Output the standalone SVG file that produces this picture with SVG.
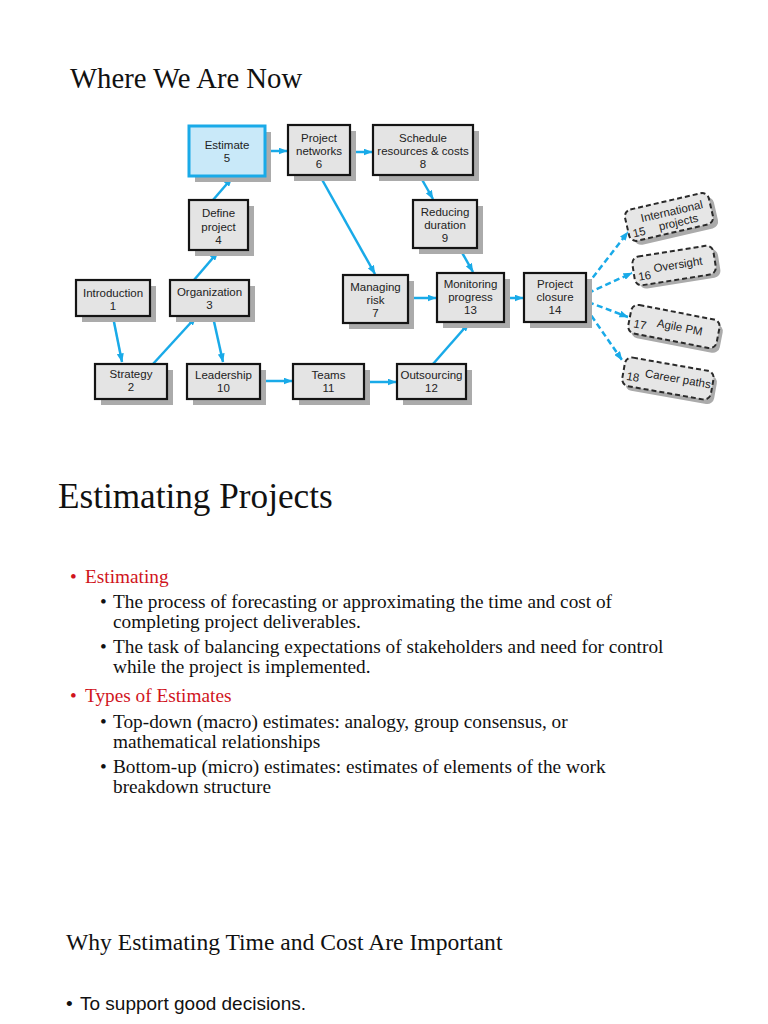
<svg xmlns="http://www.w3.org/2000/svg" width="768" height="1024" viewBox="0 0 768 1024">
<defs>
<marker id="ah" viewBox="0 0 9 7" refX="8.5" refY="3.5" markerWidth="9" markerHeight="7" markerUnits="userSpaceOnUse" orient="auto">
<path d="M0,0 L9,3.5 L0,7 z" fill="#19aae8"/>
</marker>
<style>
.sh{fill:#ababab}
.bx{fill:#e4e4e4;stroke:#141414;stroke-width:2.2}
.est{fill:#c9e9f9;stroke:#19aae8;stroke-width:3}
.dsh{fill:#ababab}
.dbx{fill:#e6e6e6;stroke:#2a2a2a;stroke-width:2;stroke-dasharray:5,3}
.nt{font-family:"Liberation Sans",Arial,sans-serif;font-size:11.5px;fill:#222;text-anchor:middle}
.nl{font-family:"Liberation Sans",Arial,sans-serif;font-size:11.5px;fill:#222}
.ed{fill:none;stroke:#19aae8;stroke-width:2.5;marker-end:url(#ah)}
.dd{fill:none;stroke:#19aae8;stroke-width:2.5;stroke-dasharray:6,3.5;marker-end:url(#ah)}
.h1{font-family:"Liberation Serif","Times New Roman",serif;fill:#111}
.bt{font-family:"Liberation Serif","Times New Roman",serif;font-size:19.3px;fill:#111}
.rd{fill:#d0141c}
</style>
</defs>
<rect width="768" height="1024" fill="#fff"/>
<text class="h1" x="70" y="88" font-size="28.7">Where We Are Now</text>

<g id="connectors">
<line class="ed" x1="113" y1="317" x2="122" y2="362"/>
<line class="ed" x1="153" y1="364" x2="196" y2="317"/>
<line class="ed" x1="213" y1="317" x2="223" y2="362"/>
<line class="ed" x1="194" y1="280" x2="218" y2="252"/>
<line class="ed" x1="213" y1="200" x2="232" y2="178"/>
<line class="ed" x1="266" y1="151" x2="287" y2="151"/>
<line class="ed" x1="261" y1="381" x2="292" y2="381"/>
<line class="ed" x1="351" y1="152" x2="372" y2="152"/>
<line class="ed" x1="320" y1="176" x2="375" y2="274"/>
<line class="ed" x1="420" y1="176" x2="433" y2="199"/>
<line class="ed" x1="460" y1="249" x2="473" y2="272"/>
<line class="ed" x1="409" y1="298" x2="436" y2="298"/>
<line class="ed" x1="365" y1="382" x2="396" y2="382"/>
<line class="ed" x1="433" y1="364" x2="469" y2="323"/>
<line class="ed" x1="505" y1="298" x2="523" y2="298"/>
<line class="dd" x1="587" y1="285" x2="628" y2="232"/>
<line class="dd" x1="588" y1="293" x2="632" y2="273"/>
<line class="dd" x1="588" y1="302" x2="628" y2="317"/>
<line class="dd" x1="586" y1="308" x2="622" y2="360"/>
</g>

<g id="n1"><rect class="sh" x="82" y="286" width="74" height="36"/><rect class="bx" x="76" y="280" width="74" height="36"/><text class="nt" x="113" y="297">Introduction</text><text class="nt" x="113" y="310">1</text></g>
<g id="n2"><rect class="sh" x="101" y="370" width="72" height="35"/><rect class="bx" x="95" y="364" width="72" height="35"/><text class="nt" x="131" y="378">Strategy</text><text class="nt" x="131" y="391">2</text></g>
<g id="n3"><rect class="sh" x="176" y="286" width="79" height="36"/><rect class="bx" x="170" y="280" width="79" height="36"/><text class="nt" x="209.5" y="296">Organization</text><text class="nt" x="209.5" y="309">3</text></g>
<g id="n4"><rect class="sh" x="195" y="206" width="59" height="50"/><rect class="bx" x="189" y="200" width="59" height="50"/><text class="nt" x="218.5" y="217">Define</text><text class="nt" x="218.5" y="231">project</text><text class="nt" x="218.5" y="244">4</text></g>
<g id="n5"><rect class="sh" x="195" y="132" width="76" height="50"/><rect class="est" x="189" y="126" width="76" height="50"/><text class="nt" x="227" y="149">Estimate</text><text class="nt" x="227" y="162">5</text></g>
<g id="n6"><rect class="sh" x="294" y="131" width="62" height="50"/><rect class="bx" x="288" y="125" width="62" height="50"/><text class="nt" x="319" y="142">Project</text><text class="nt" x="319" y="155">networks</text><text class="nt" x="319" y="168">6</text></g>
<g id="n7"><rect class="sh" x="349" y="281" width="65" height="48"/><rect class="bx" x="343" y="275" width="65" height="48"/><text class="nt" x="375.5" y="291">Managing</text><text class="nt" x="375.5" y="304">risk</text><text class="nt" x="375.5" y="317">7</text></g>
<g id="n8"><rect class="sh" x="379" y="131" width="100" height="50"/><rect class="bx" x="373" y="125" width="100" height="50"/><text class="nt" x="423" y="142">Schedule</text><text class="nt" x="423" y="155">resources &amp; costs</text><text class="nt" x="423" y="168">8</text></g>
<g id="n9"><rect class="sh" x="419" y="206" width="64" height="48"/><rect class="bx" x="413" y="200" width="64" height="48"/><text class="nt" x="445" y="216">Reducing</text><text class="nt" x="445" y="229">duration</text><text class="nt" x="445" y="242">9</text></g>
<g id="n10"><rect class="sh" x="193" y="370" width="73" height="35"/><rect class="bx" x="187" y="364" width="73" height="35"/><text class="nt" x="223.5" y="379">Leadership</text><text class="nt" x="223.5" y="392">10</text></g>
<g id="n11"><rect class="sh" x="299" y="370" width="71" height="35"/><rect class="bx" x="293" y="364" width="71" height="35"/><text class="nt" x="328.5" y="379">Teams</text><text class="nt" x="328.5" y="392">11</text></g>
<g id="n12"><rect class="sh" x="403" y="370" width="69" height="35"/><rect class="bx" x="397" y="364" width="69" height="35"/><text class="nt" x="431.5" y="379">Outsourcing</text><text class="nt" x="431.5" y="392">12</text></g>
<g id="n13"><rect class="sh" x="443" y="279" width="67" height="49"/><rect class="bx" x="437" y="273" width="67" height="49"/><text class="nt" x="470.5" y="288">Monitoring</text><text class="nt" x="470.5" y="301">progress</text><text class="nt" x="470.5" y="314">13</text></g>
<g id="n14"><rect class="sh" x="530" y="279" width="62" height="49"/><rect class="bx" x="524" y="273" width="62" height="49"/><text class="nt" x="555" y="288">Project</text><text class="nt" x="555" y="301">closure</text><text class="nt" x="555" y="314">14</text></g>

<g id="n15" transform="translate(669,217) rotate(-13)"><rect class="dsh" x="-39" y="-11" width="86" height="32" rx="7"/><rect class="dbx" x="-43" y="-16" width="86" height="32" rx="7"/><text class="nt" x="4" y="-1">International</text><text class="nt" x="8" y="11">projects</text><text class="nl" x="-39" y="12">15</text></g>
<g id="n16" transform="translate(674,265) rotate(-9)"><rect class="dsh" x="-37" y="-10" width="82" height="29" rx="7"/><rect class="dbx" x="-41" y="-14" width="82" height="29" rx="7"/><text class="nt" x="4" y="4">Oversight</text><text class="nl" x="-37" y="10">16</text></g>
<g id="n17" transform="translate(674,326) rotate(11)"><rect class="dsh" x="-41" y="-10" width="90" height="29" rx="7"/><rect class="dbx" x="-45" y="-14" width="90" height="29" rx="7"/><text class="nt" x="6" y="4">Agile PM</text><text class="nl" x="-40" y="9">17</text></g>
<g id="n18" transform="translate(668,378) rotate(10)"><rect class="dsh" x="-41" y="-10" width="90" height="29" rx="7"/><rect class="dbx" x="-45" y="-14" width="90" height="29" rx="7"/><text class="nt" x="10" y="3">Career paths</text><text class="nl" x="-41" y="9">18</text></g>

<text class="h1" x="58" y="508" font-size="35.2">Estimating Projects</text>
<text class="bt rd" x="70" y="583">•</text><text class="bt rd" x="85" y="583">Estimating</text>
<text class="bt" x="100" y="608">•</text><text class="bt" x="113" y="608">The process of forecasting or approximating the time and cost of</text>
<text class="bt" x="113" y="628">completing project deliverables.</text>
<text class="bt" x="100" y="653">•</text><text class="bt" x="113" y="653">The task of balancing expectations of stakeholders and need for control</text>
<text class="bt" x="113" y="673">while the project is implemented.</text>
<text class="bt rd" x="70" y="702">•</text><text class="bt rd" x="85" y="702">Types of Estimates</text>
<text class="bt" x="100" y="728">•</text><text class="bt" x="113" y="728">Top-down (macro) estimates: analogy, group consensus, or</text>
<text class="bt" x="113" y="748">mathematical relationships</text>
<text class="bt" x="100" y="773">•</text><text class="bt" x="113" y="773">Bottom-up (micro) estimates: estimates of elements of the work</text>
<text class="bt" x="113" y="793">breakdown structure</text>

<text class="h1" x="66" y="950" font-size="23.6">Why Estimating Time and Cost Are Important</text>
<text x="66" y="1010" font-family="'Liberation Sans',Arial,sans-serif" font-size="19" fill="#111">•</text>
<text x="80" y="1010" font-family="'Liberation Sans',Arial,sans-serif" font-size="19" fill="#111">To support good decisions.</text>
</svg>
